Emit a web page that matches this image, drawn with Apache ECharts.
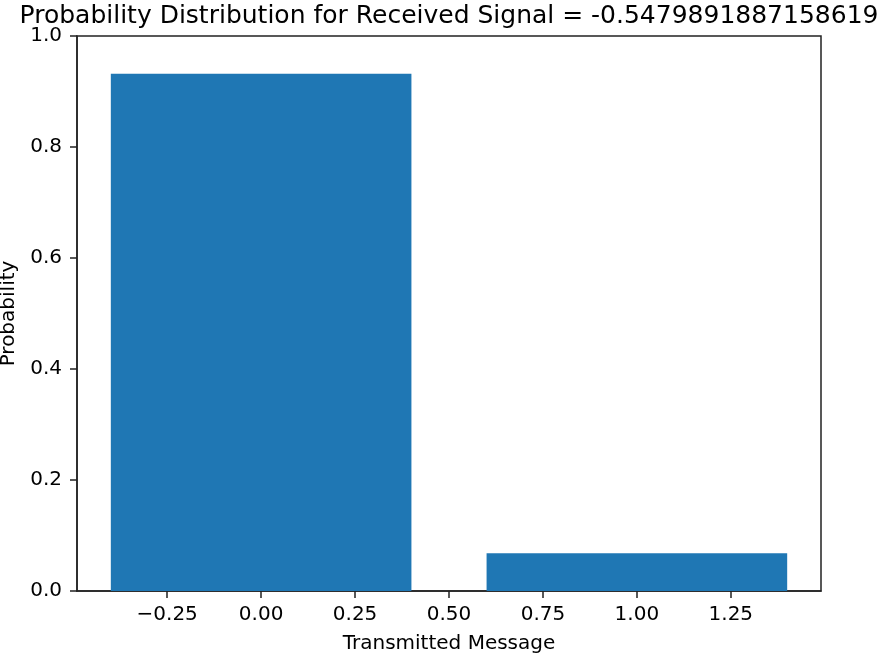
<!DOCTYPE html>
<html>
<head>
<meta charset="utf-8">
<script src="https://cdn.jsdelivr.net/npm/echarts@6/dist/echarts.min.js"></script>
<style>
  html, body { margin: 0; padding: 0; background: #fff; }
  #chart { width: 883px; height: 663px; }
</style>
</head>
<body>
<div id="chart"></div>
<script>
// transmitted messages and their probabilities
const messages = [0, 1]
const probabilities = [0.932, 0.068]
const xTicks = [-0.25, 0, 0.25, 0.5, 0.75, 1.0, 1.25]
const barWidth = 0.8

const font = 'DejaVu Sans'
const fmtX = v => v.toFixed(2).replace('-', '\u2212')

const chart = echarts.init(document.getElementById('chart'))

chart.setOption({
  animation: false,
  title: {
    text: 'Probability Distribution for Received Signal = -0.5479891887158619',
    left: 444,
    textAlign: 'center',
    top: -1,
    textStyle: { fontFamily: font, fontSize: 25, fontWeight: 'normal', color: '#000' }
  },
  grid: {
    left: 77,
    right: 62,
    top: 36,
    bottom: 72,
    outerBoundsMode: 'none',
    containLabel: false,
    show: true,
    borderColor: '#222',
    borderWidth: 1.5
  },
  xAxis: {
    type: 'value',
    min: -0.49,
    max: 1.49,
    name: 'Transmitted Message',
    nameLocation: 'middle',
    nameGap: 43,
    nameTextStyle: { fontFamily: font, fontSize: 20, color: '#000' },
    axisLine: { show: true, onZero: false, lineStyle: { color: '#222', width: 1.5 } },
    axisTick: { show: true, length: 7, customValues: xTicks, lineStyle: { color: '#222', width: 1.5 } },
    axisLabel: {
      customValues: xTicks,
      formatter: fmtX,
      fontFamily: font, fontSize: 20, color: '#000', margin: 14
    },
    splitLine: { show: false }
  },
  yAxis: {
    type: 'value',
    min: 0,
    max: 1,
    interval: 0.2,
    name: 'Probability',
    nameLocation: 'middle',
    nameGap: 55,
    nameTextStyle: { fontFamily: font, fontSize: 20, color: '#000' },
    axisLine: { show: true, onZero: false, lineStyle: { color: '#222', width: 1.5 } },
    axisTick: { show: true, length: 7, lineStyle: { color: '#222', width: 1.5 } },
    axisLabel: {
      formatter: v => v.toFixed(1),
      fontFamily: font, fontSize: 20, color: '#000', margin: 15
    },
    splitLine: { show: false }
  },
  series: [{
    type: 'custom',
    data: messages.map((m, i) => [m, probabilities[i]]),
    renderItem: (params, api) => {
      const x = api.value(0)
      const y = api.value(1)
      const p0 = api.coord([x - barWidth / 2, y])
      const p1 = api.coord([x + barWidth / 2, 0])
      return {
        type: 'rect',
        shape: { x: p0[0], y: p0[1], width: p1[0] - p0[0], height: p1[1] - p0[1] },
        style: { fill: '#1f77b4' }
      }
    },
    z: 1
  }]
})
</script>
</body>
</html>
